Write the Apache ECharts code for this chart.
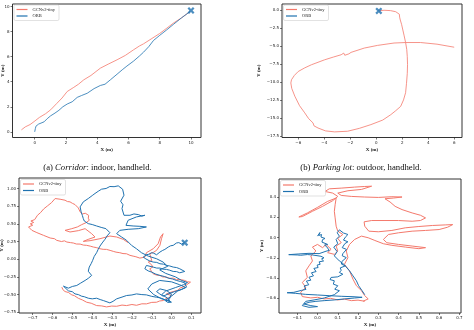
<!DOCTYPE html>
<html>
<head>
<meta charset="utf-8">
<script src="https://cdn.jsdelivr.net/npm/echarts@6/dist/echarts.min.js"></script>
<style>
html, body { margin: 0; padding: 0; background: #fff; }
#chart { width: 474px; height: 330px; }
</style>
</head>
<body>
<div id="chart"></div>
<script>
// ---- Trajectory data (metres) ----
// (a) Corridor
const corridorGcn = [[-0.85,0.16],[-0.6,0.4],[-0.3,0.58],[-0.04,0.82],[0.3,1.15],[0.7,1.45],[1.02,1.76],[1.4,2.25],[1.75,2.7],[2.08,3.22],[2.5,3.55],[2.8,3.8],[3.14,4.15],[3.6,4.5],[4.2,5.08],[4.7,5.4],[5.27,5.75],[5.8,6.1],[6.33,6.55],[6.7,6.85],[6.96,7.02],[7.5,7.45],[8.0,7.85],[8.45,8.27],[8.9,8.7],[9.4,9.1],[9.94,9.6]];
const corridorOrb = [[0,0],[0.04,0.25],[0.08,0.45],[0.25,0.62],[0.6,0.8],[0.8,1.05],[1.02,1.28],[1.3,1.5],[1.55,1.72],[1.8,2.0],[2.08,2.22],[2.4,2.4],[2.72,2.75],[3.0,2.9],[3.36,3.08],[3.8,3.45],[4.2,3.7],[4.5,3.8],[4.84,4.15],[5.27,4.6],[5.6,4.95],[5.9,5.25],[6.33,5.65],[6.7,6.05],[6.96,6.35],[7.3,6.8],[7.6,7.29],[8.0,7.7],[8.45,8.14],[8.9,8.6],[9.4,9.1],[9.94,9.6]];
const corridorEnd = [[10,9.68]];

// (b) Parking lot
const parkingGcn = [[0.2,-0.14],[0.6,-0.05],[1.1,-0.1],[1.5,-0.25],[1.62,-0.5],[1.78,-0.6],[1.8,-1.0],[1.85,-1.4],[1.95,-2.0],[2.05,-2.8],[2.15,-3.6],[2.26,-4.53],[2.35,-5.5],[2.39,-6.5],[2.41,-7.6],[2.39,-8.8],[2.33,-10.2],[2.26,-11.5],[2.1,-12.5],[1.88,-13.4],[1.5,-14.0],[1.12,-14.55],[0.5,-15.3],[-0.41,-15.93],[-1.3,-16.45],[-2.2,-16.85],[-3.2,-16.94],[-3.9,-16.8],[-4.48,-16.4],[-4.79,-16.1],[-4.86,-15.7],[-5.2,-15.1],[-5.5,-14.3],[-5.9,-13.3],[-6.26,-12.0],[-6.5,-10.9],[-6.57,-10.15],[-6.52,-9.7],[-6.3,-9.1],[-6.0,-8.55],[-5.5,-8.05],[-4.99,-7.62],[-3.97,-6.93],[-3.3,-6.55],[-2.7,-6.23],[-2.5,-6.0],[-2.42,-6.3],[-2.1,-6.1],[-1.94,-5.9],[-0.92,-5.3],[0.1,-4.93],[1.37,-4.6],[2.26,-4.53],[3.41,-4.53],[4.68,-4.76],[6.0,-5.18]];
const parkingOrb = [[0.15,-0.08],[0.24,-0.2],[0.2,-0.14]];
const parkingEnd = [[0.2,-0.14]];

// (c) handheld sequence, left
const seqCGcn = [[-0.553,-0.395],[-0.548,-0.43],[-0.537,-0.457],[-0.52,-0.47],[-0.503,-0.504],[-0.49,-0.515],[-0.47,-0.552],[-0.45,-0.575],[-0.428,-0.608],[-0.405,-0.622],[-0.378,-0.655],[-0.352,-0.66],[-0.328,-0.674],[-0.302,-0.662],[-0.277,-0.665],[-0.25,-0.648],[-0.227,-0.655],[-0.2,-0.64],[-0.177,-0.651],[-0.15,-0.63],[-0.127,-0.631],[-0.1,-0.61],[-0.076,-0.608],[-0.06,-0.59],[-0.043,-0.584],[-0.03,-0.56],[-0.017,-0.551],[-0.001,-0.513],[-0.026,-0.49],[-0.008,-0.47],[0.008,-0.457],[0.03,-0.44],[0.041,-0.409],[0.06,-0.39],[0.075,-0.362],[0.095,-0.324],[0.08,-0.318],[0.066,-0.3],[0.041,-0.286],[0.025,-0.29],[0.008,-0.267],[-0.01,-0.27],[-0.026,-0.253],[-0.045,-0.25],[-0.059,-0.229],[-0.075,-0.225],[-0.093,-0.206],[-0.11,-0.135],[-0.095,-0.11],[-0.101,-0.078],[-0.118,-0.04],[-0.1,-0.02],[-0.093,0.007],[-0.11,0.077],[-0.09,0.1],[-0.076,0.125],[-0.059,0.196],[-0.051,0.29],[-0.043,0.361],[-0.056,0.314],[-0.068,0.219],[-0.093,0.148],[-0.127,0.092],[-0.135,0.03],[-0.16,0.016],[-0.18,0.035],[-0.194,0.044],[-0.21,0.055],[-0.227,0.077],[-0.245,0.08],[-0.261,0.092],[-0.28,0.1],[-0.294,0.111],[-0.31,0.125],[-0.328,0.139],[-0.345,0.14],[-0.361,0.148],[-0.38,0.165],[-0.394,0.172],[-0.41,0.185],[-0.428,0.196],[-0.445,0.2],[-0.461,0.214],[-0.48,0.215],[-0.495,0.229],[-0.51,0.235],[-0.528,0.243],[-0.54,0.26],[-0.555,0.25],[-0.565,0.275],[-0.579,0.267],[-0.59,0.29],[-0.612,0.3],[-0.62,0.325],[-0.646,0.338],[-0.65,0.36],[-0.679,0.376],[-0.685,0.4],[-0.704,0.408],[-0.7,0.43],[-0.721,0.456],[-0.7,0.48],[-0.712,0.5],[-0.695,0.52],[-0.709,0.54],[-0.69,0.56],[-0.696,0.585],[-0.676,0.621],[-0.685,0.64],[-0.66,0.66],[-0.67,0.68],[-0.645,0.71],[-0.65,0.735],[-0.625,0.755],[-0.629,0.78],[-0.605,0.8],[-0.609,0.825],[-0.587,0.858],[-0.562,0.848],[-0.537,0.834],[-0.525,0.815],[-0.512,0.811],[-0.5,0.79],[-0.487,0.773],[-0.47,0.725],[-0.461,0.669],[-0.45,0.64],[-0.445,0.621],[-0.435,0.65],[-0.425,0.645],[-0.418,0.62],[-0.408,0.612],[-0.42,0.58],[-0.41,0.565],[-0.415,0.551],[-0.431,0.517],[-0.453,0.489],[-0.475,0.456],[-0.503,0.432],[-0.537,0.408],[-0.512,0.385],[-0.47,0.404],[-0.436,0.432],[-0.403,0.361],[-0.386,0.314],[-0.42,0.281],[-0.445,0.252],[-0.411,0.262],[-0.361,0.29],[-0.311,0.328],[-0.277,0.314],[-0.244,0.281],[-0.219,0.234]];
const seqCOrb = [[0.066,0.234],[0.058,0.22],[0.05,0.215],[0.036,0.235],[0.024,0.229],[0.016,0.205],[0.008,0.196],[-0.005,0.19],[-0.017,0.172],[-0.025,0.16],[-0.034,0.139],[-0.045,0.125],[-0.059,0.101],[-0.065,0.085],[-0.076,0.063],[-0.09,0.085],[-0.101,0.092],[-0.115,0.07],[-0.127,0.063],[-0.143,0.03],[-0.13,0.005],[-0.127,-0.017],[-0.11,-0.025],[-0.093,-0.04],[-0.075,-0.045],[-0.059,-0.064],[-0.04,-0.07],[-0.026,-0.088],[-0.01,-0.095],[0.008,-0.111],[0.025,-0.118],[0.041,-0.135],[0.066,-0.173],[0.041,-0.192],[0.025,-0.175],[0.008,-0.173],[-0.01,-0.155],[-0.026,-0.144],[-0.045,-0.14],[-0.059,-0.125],[-0.075,-0.125],[-0.093,-0.111],[-0.127,-0.088],[-0.135,-0.135],[-0.118,-0.165],[-0.101,-0.182],[-0.08,-0.21],[-0.059,-0.229],[-0.035,-0.245],[-0.017,-0.267],[0.005,-0.28],[0.024,-0.3],[0.045,-0.315],[0.066,-0.333],[0.075,-0.395],[0.05,-0.428],[0.016,-0.457],[-0.017,-0.49],[-0.043,-0.523],[-0.06,-0.49],[-0.076,-0.457],[-0.059,-0.419],[-0.026,-0.442],[-0.001,-0.49],[-0.009,-0.551],[-0.017,-0.584],[-0.001,-0.607],[-0.02,-0.61],[-0.026,-0.598],[-0.043,-0.56],[-0.06,-0.545],[-0.076,-0.537],[-0.1,-0.525],[-0.127,-0.504],[-0.15,-0.5],[-0.177,-0.49],[-0.2,-0.505],[-0.227,-0.513],[-0.25,-0.535],[-0.277,-0.56],[-0.295,-0.595],[-0.311,-0.617],[-0.344,-0.584],[-0.36,-0.57],[-0.378,-0.551],[-0.4,-0.56],[-0.42,-0.551],[-0.44,-0.53],[-0.453,-0.523],[-0.47,-0.5],[-0.487,-0.49],[-0.5,-0.46],[-0.52,-0.447],[-0.545,-0.381],[-0.52,-0.409],[-0.5,-0.385],[-0.478,-0.371],[-0.46,-0.34],[-0.436,-0.3],[-0.42,-0.27],[-0.403,-0.229],[-0.42,-0.17],[-0.415,-0.111],[-0.405,-0.06],[-0.398,-0.017],[-0.39,0.04],[-0.378,0.092],[-0.37,0.14],[-0.361,0.186],[-0.35,0.23],[-0.336,0.281],[-0.325,0.33],[-0.311,0.375],[-0.331,0.432],[-0.355,0.45],[-0.378,0.47],[-0.4,0.49],[-0.42,0.503],[-0.44,0.54],[-0.445,0.574],[-0.45,0.62],[-0.456,0.669],[-0.461,0.74],[-0.445,0.811],[-0.42,0.858],[-0.4,0.9],[-0.386,0.929],[-0.37,0.96],[-0.353,0.99],[-0.33,1.0],[-0.311,1.028],[-0.29,1.025],[-0.269,1.037],[-0.247,0.99],[-0.24,0.905],[-0.257,0.82],[-0.245,0.77],[-0.25,0.716],[-0.24,0.621],[-0.21,0.621],[-0.19,0.64],[-0.168,0.631],[-0.15,0.61],[-0.135,0.621],[-0.177,0.598],[-0.219,0.551],[-0.23,0.479],[-0.194,0.47],[-0.16,0.465],[-0.127,0.456],[-0.168,0.432],[-0.219,0.423],[-0.261,0.408],[-0.277,0.361],[-0.252,0.314],[-0.227,0.267],[-0.202,0.196],[-0.177,0.148],[-0.152,0.092],[-0.118,0.044],[-0.076,0.007],[-0.043,-0.04],[-0.02,-0.1],[-0.06,-0.15],[-0.03,-0.2],[0.02,-0.25],[0.05,-0.3],[0.08,-0.33],[0.06,-0.36],[0.02,-0.4],[-0.03,-0.45],[-0.05,-0.5],[-0.02,-0.55],[-0.01,-0.59],[-0.05,-0.56],[-0.09,-0.5],[-0.12,-0.42],[-0.1,-0.35],[-0.06,-0.3],[0.0,-0.32],[0.04,-0.36],[0.07,-0.4],[0.03,-0.45],[0.0,-0.52],[-0.03,-0.58],[-0.005,-0.6]];
const seqCEnd = [[0.066,0.234]];

// (d) handheld sequence, right
const seqDGcn = [[0.233,-0.629],[0.2,-0.618],[0.167,-0.623],[0.133,-0.608],[0.1,-0.616],[0.065,-0.6],[0.033,-0.606],[0.0,-0.59],[-0.033,-0.596],[-0.075,-0.583],[-0.083,-0.541],[-0.058,-0.492],[-0.075,-0.443],[-0.05,-0.394],[-0.058,-0.329],[-0.042,-0.28],[-0.025,-0.231],[-0.033,-0.182],[-0.008,-0.133],[-0.025,-0.094],[0.0,-0.068],[0.025,-0.1],[0.042,-0.068],[0.067,-0.116],[0.05,-0.149],[0.083,-0.166],[0.1,-0.133],[0.092,-0.084],[0.117,-0.051],[0.1,-0.009],[0.125,0.03],[0.1,0.063],[0.092,0.112],[0.087,0.194],[0.083,0.259],[0.087,0.324],[0.092,0.39],[0.083,0.4],[0.05,0.357],[0.0,0.298],[-0.05,0.243],[-0.092,0.203],[-0.1,0.194],[-0.075,0.207],[-0.025,0.259],[0.025,0.308],[0.075,0.364],[0.1,0.406],[0.075,0.439],[0.037,0.455],[0.03,0.468],[0.058,0.481],[0.117,0.488],[0.183,0.498],[0.233,0.504],[0.267,0.507],[0.263,0.488],[0.217,0.475],[0.15,0.462],[0.1,0.439],[0.117,0.416],[0.167,0.406],[0.233,0.4],[0.3,0.396],[0.367,0.403],[0.417,0.4],[0.375,0.39],[0.333,0.383],[0.358,0.351],[0.383,0.308],[0.417,0.276],[0.467,0.243],[0.508,0.22],[0.533,0.194],[0.508,0.168],[0.467,0.161],[0.4,0.168],[0.333,0.168],[0.267,0.168],[0.23,0.155],[0.233,0.112],[0.253,0.063],[0.3,0.057],[0.367,0.07],[0.433,0.096],[0.5,0.109],[0.567,0.119],[0.633,0.125],[0.667,0.128],[0.642,0.102],[0.6,0.079],[0.533,0.07],[0.467,0.063],[0.4,0.047],[0.35,0.03],[0.325,-0.019],[0.342,-0.051],[0.4,-0.068],[0.467,-0.084],[0.533,-0.1],[0.5,-0.11],[0.433,-0.094],[0.367,-0.077],[0.325,-0.061],[0.283,-0.029],[0.25,-0.002],[0.217,0.014],[0.183,-0.019],[0.158,-0.068],[0.142,-0.133],[0.15,-0.198],[0.133,-0.264],[0.158,-0.329],[0.175,-0.411],[0.192,-0.476],[0.217,-0.525],[0.233,-0.574],[0.25,-0.606],[0.225,-0.629]];
const seqDOrb = [[0.0,0.014],[0.012,0.05],[0.006,0.02],[0.02,0.03],[0.017,0.005],[0.037,-0.009],[0.025,-0.02],[0.03,-0.035],[0.022,-0.045],[0.05,-0.068],[0.035,-0.075],[0.045,-0.09],[0.037,-0.1],[0.058,-0.127],[0.042,-0.135],[0.047,-0.149],[0.008,-0.159],[-0.042,-0.156],[-0.092,-0.162],[-0.142,-0.169],[-0.1,-0.172],[-0.083,-0.175],[-0.05,-0.168],[-0.025,-0.172],[0.017,-0.185],[0.032,-0.2],[0.02,-0.212],[0.03,-0.231],[0.008,-0.24],[0.013,-0.264],[-0.002,-0.272],[0.003,-0.296],[-0.018,-0.305],[-0.007,-0.336],[-0.03,-0.348],[-0.02,-0.378],[-0.042,-0.392],[-0.033,-0.421],[-0.055,-0.43],[-0.043,-0.466],[-0.066,-0.478],[-0.057,-0.512],[-0.08,-0.522],[-0.075,-0.538],[-0.117,-0.541],[-0.15,-0.545],[-0.108,-0.551],[-0.058,-0.561],[0.0,-0.567],[0.058,-0.574],[0.117,-0.58],[0.175,-0.584],[0.22,-0.59],[0.183,-0.597],[0.133,-0.606],[0.083,-0.616],[0.033,-0.623],[-0.008,-0.63],[-0.042,-0.639],[-0.067,-0.656],[-0.033,-0.672],[0.0,-0.682],[-0.042,-0.689],[-0.075,-0.672],[-0.058,-0.63],[-0.017,-0.616],[0.033,-0.597],[0.083,-0.564],[0.108,-0.525],[0.085,-0.51],[0.1,-0.476],[0.078,-0.46],[0.083,-0.427],[0.062,-0.415],[0.067,-0.394],[0.1,-0.388],[0.125,-0.362],[0.108,-0.345],[0.117,-0.323],[0.112,-0.3],[0.137,-0.28],[0.118,-0.262],[0.12,-0.237],[0.125,-0.22],[0.142,-0.198],[0.122,-0.18],[0.125,-0.159],[0.128,-0.14],[0.143,-0.117],[0.122,-0.1],[0.13,-0.081],[0.135,-0.06],[0.15,-0.042],[0.128,-0.025],[0.133,-0.009],[0.14,0.01],[0.15,0.03],[0.128,0.045],[0.13,0.063],[0.108,0.076],[0.097,0.047],[0.108,0.014],[0.092,-0.019],[0.1,-0.061],[0.08,-0.094],[0.097,-0.139],[0.083,-0.181],[0.108,-0.231],[0.13,-0.264],[0.158,-0.329],[0.175,-0.378],[0.192,-0.427],[0.203,-0.476],[0.22,-0.525],[0.233,-0.564]];

// ---- Tick values ----
const corridorTicksX = [0, 2, 4, 6, 8, 10];
const corridorTicksY = [0, 2, 4, 6, 8, 10];
const parkingTicksX = [-6, -4, -2, 0, 2, 4, 6];
const parkingTicksY = [0, -2.5, -5, -7.5, -10, -12.5, -15, -17.5];
const seqCTicksX = [-0.7, -0.6, -0.5, -0.4, -0.3, -0.2, -0.1, 0.0, 0.1];
const seqCTicksY = [-0.75, -0.5, -0.25, 0, 0.25, 0.5, 0.75, 1.0];
const seqDTicksX = [-0.1, 0.0, 0.1, 0.2, 0.3, 0.4, 0.5, 0.6, 0.7];
const seqDTicksY = [-0.6, -0.4, -0.2, 0.0, 0.2, 0.4];

const RED = '#f4796c';
const BLUE = '#1f72b0';
const INK = '#222';
const SERIF = 'Liberation Serif';
const SANS = 'DejaVu Sans';

const panels = [
  { grid: { left: 12.5, top: 4, width: 188.5, height: 133.5 },
    x: [-1.42, 10.64], y: [-0.45, 10.2], tx: corridorTicksX, ty: corridorTicksY, dx: 0, dy: 0,
    yGap: 7, lw: 0.8, gcn: corridorGcn, orb: corridorOrb, end: corridorEnd, legend: { left: 14, top: 5 } },
  { grid: { left: 282, top: 4, width: 180, height: 133.5 },
    x: [-7.25, 6.6], y: [-17.72, 0.82], tx: parkingTicksX, ty: parkingTicksY, dx: 0, dy: 1,
    yGap: 21, lw: 0.8, gcn: parkingGcn, orb: parkingOrb, end: parkingEnd, legend: { left: 283.5, top: 5 } },
  { grid: { left: 19, top: 178, width: 182, height: 135 },
    x: [-0.769, 0.148], y: [-0.76, 1.148], tx: seqCTicksX, ty: seqCTicksY, dx: 1, dy: 2,
    yGap: 14.5, lw: 1, gcn: seqCGcn, orb: seqCOrb, end: seqCEnd, legend: { left: 20.5, top: 179.5 } },
  { grid: { left: 279, top: 179, width: 182, height: 134 },
    x: [-0.19, 0.708], y: [-0.745, 0.578], tx: seqDTicksX, ty: seqDTicksY, dx: 1, dy: 1,
    yGap: 14.5, lw: 1, gcn: seqDGcn, orb: seqDOrb, end: null, legend: { left: 280.5, top: 180.5 } }
];

function fmt(d) {
  return function (v) { return Number(v).toFixed(d).replace('-', '\u2212'); };
}

const grids = [], xAxes = [], yAxes = [], series = [], legends = [];
const tickStyle = { show: true, inside: false, length: 2, lineStyle: { color: INK, width: 0.6 } };
const endSymbol = 'path://M-1,-0.55L-0.55,-1L0,-0.45L0.55,-1L1,-0.55L0.45,0L1,0.55L0.55,1L0,0.45L-0.55,1L-1,0.55L-0.45,0Z';

panels.forEach(function (p, i) {
  grids.push(Object.assign({ show: true, borderColor: '#333', borderWidth: 1, backgroundColor: '#fff',
    containLabel: false, outerBoundsMode: 'none' }, p.grid));
  xAxes.push({
    type: 'value', gridIndex: i, min: p.x[0], max: p.x[1], position: 'bottom',
    name: 'X (m)', nameLocation: 'middle', nameGap: 9.5, nameMoveOverlap: false,
    nameTextStyle: { fontFamily: SERIF, fontSize: 5, fontWeight: 'bold', color: INK },
    axisLine: { show: false, onZero: false }, splitLine: { show: false },
    axisTick: Object.assign({ customValues: p.tx }, tickStyle),
    axisLabel: { customValues: p.tx, formatter: fmt(p.dx), fontFamily: SANS, fontSize: 4, color: INK, margin: 3 }
  });
  yAxes.push({
    type: 'value', gridIndex: i, min: p.y[0], max: p.y[1], position: 'left',
    name: 'Y (m)', nameLocation: 'middle', nameGap: p.yGap, nameMoveOverlap: false,
    nameTextStyle: { fontFamily: SERIF, fontSize: 5, fontWeight: 'bold', color: INK },
    axisLine: { show: false, onZero: false }, splitLine: { show: false },
    axisTick: Object.assign({ customValues: p.ty }, tickStyle),
    axisLabel: { customValues: p.ty, formatter: fmt(p.dy), fontFamily: SANS, fontSize: 4, color: INK, margin: 3 }
  });
  series.push({
    type: 'line', name: 'GCNv2-tiny', xAxisIndex: i, yAxisIndex: i, data: p.gcn,
    showSymbol: false, symbol: 'none', color: RED,
    lineStyle: { color: RED, width: p.lw }, itemStyle: { color: RED }, z: 2
  });
  series.push({
    type: 'line', name: 'ORB', xAxisIndex: i, yAxisIndex: i, data: p.orb,
    showSymbol: false, symbol: 'none', color: BLUE,
    lineStyle: { color: BLUE, width: p.lw }, itemStyle: { color: BLUE }, z: 3
  });
  if (p.end) {
    series.push({
      type: 'scatter', name: 'end', xAxisIndex: i, yAxisIndex: i, data: p.end,
      symbol: endSymbol, symbolSize: 7, itemStyle: { color: BLUE }, z: 4
    });
  }
  legends.push({
    data: ['GCNv2-tiny', 'ORB'], orient: 'vertical', left: p.legend.left, top: p.legend.top,
    icon: 'rect', itemWidth: 11, itemHeight: 1.2, itemGap: 1.5,
    padding: [2, 4, 2, 2.5], borderColor: '#cfcfcf', borderWidth: 0.6, borderRadius: 1.5,
    backgroundColor: 'rgba(255,255,255,0.85)',
    textStyle: { fontFamily: SERIF, fontSize: 4.5, color: INK, padding: [0, 0, 0, 0] },
    selectedMode: false
  });
});

function caption(x, y, tag, place, rest) {
  const base = { fontFamily: SERIF, fontSize: 8.7, fill: '#111', color: '#111' };
  return {
    type: 'text', x: x, y: y, silent: true,
    style: {
      text: '{n|' + tag + ' }{i|' + place + '}{n|' + rest + '}',
      align: 'center', verticalAlign: 'middle', fill: '#111',
      rich: { n: base, i: Object.assign({ fontStyle: 'italic' }, base) }
    }
  };
}

const chart = echarts.init(document.getElementById('chart'), null, { renderer: 'canvas' });
chart.setOption({
  animation: false,
  backgroundColor: '#fff',
  grid: grids, xAxis: xAxes, yAxis: yAxes, series: series, legend: legends,
  graphic: [
    caption(97.5, 168, '(a)', 'Corridor', ': indoor, handheld.'),
    caption(361, 168, '(b)', 'Parking lot', ': outdoor, handheld.')
  ]
});
</script>
</body>
</html>
